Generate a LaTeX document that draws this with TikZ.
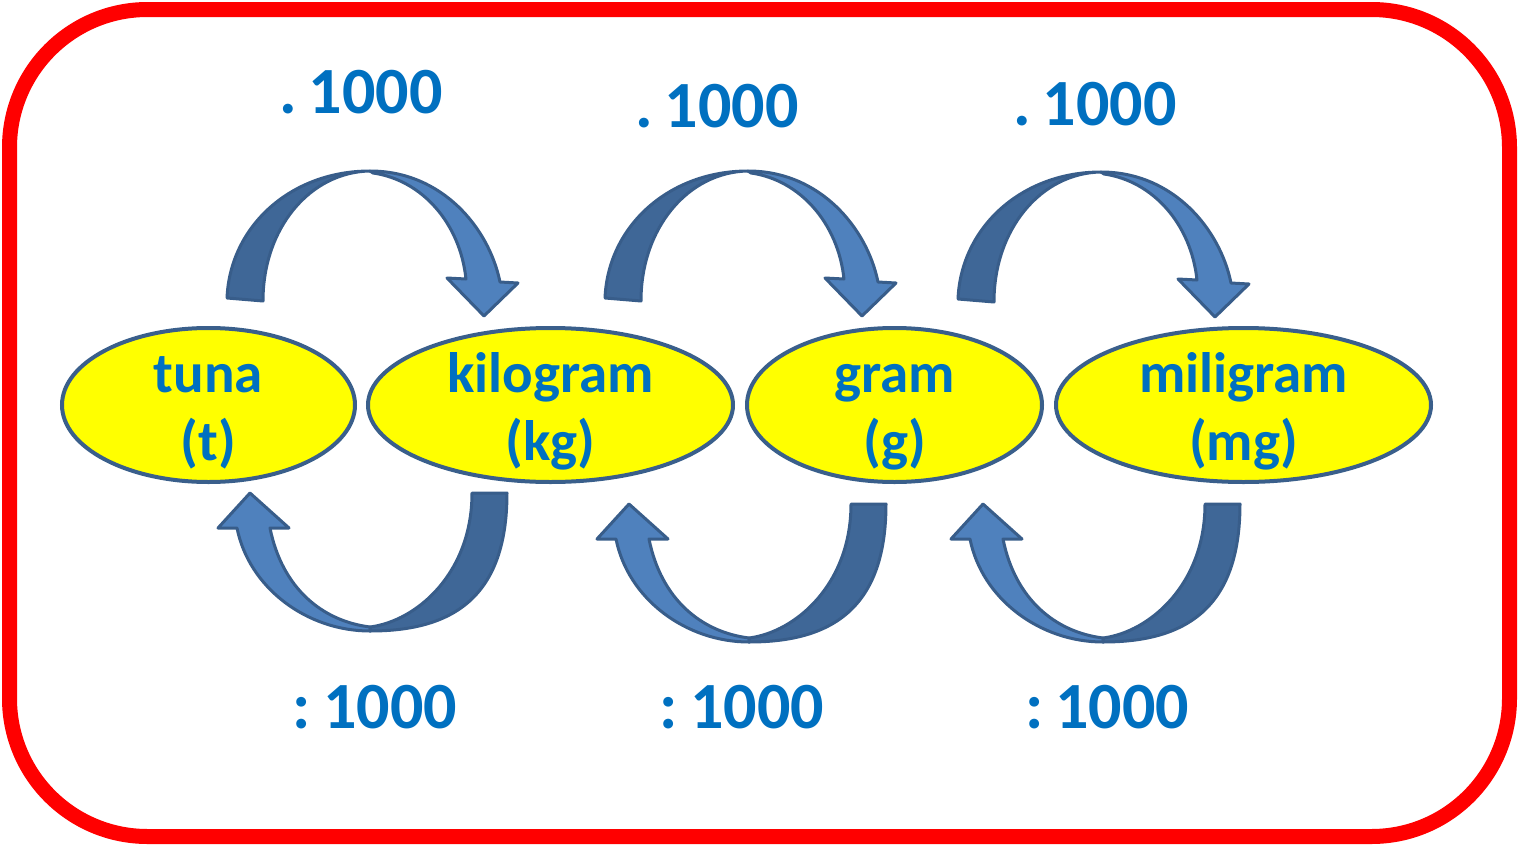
\documentclass[tikz,border=0pt]{standalone}
\usepackage{fontspec}
\setmainfont{Carlito}
\usepackage{tikz}
\usetikzlibrary{shapes.geometric}

\definecolor{framered}{HTML}{FF0000}
\definecolor{unitfill}{HTML}{FFFF00}
\definecolor{unitline}{HTML}{3A5F8B}
\definecolor{textblue}{HTML}{0070C0}
\definecolor{arrowlight}{HTML}{4F81BD}
\definecolor{arrowdark}{HTML}{3F6797}
\definecolor{arrowline}{HTML}{385D8A}

\newcommand{\unitstrut}{\rule{0pt}{52pt}}

\begin{document}
\begin{tikzpicture}[x=1pt,y=-1pt,
  unit/.style={ellipse,draw=unitline,fill=unitfill,line width=4,
    inner xsep=0pt,inner ysep=-25pt,
    minimum height=154,align=center,text=textblue,
    font=\fontsize{57}{68}\selectfont\bfseries},
  factor/.style={anchor=base,text=textblue,inner sep=0pt,
    font=\fontsize{66}{79}\selectfont\bfseries},
  back/.style={fill=arrowdark,draw=arrowline,line width=3,line join=round},
  front/.style={fill=arrowlight,draw=arrowline,line width=3,line join=round}]
  \useasboundingbox (0,0) rectangle (1519,846);
  \draw[framered,line width=15,rounded corners=138pt] (9.5,9.5) rectangle (1509.5,836.5);

  % units
  \node[unit,minimum width=293] (t) at (208.5,405) {\unitstrut tuna\\(t)};
  \node[unit,minimum width=365] (kg) at (550.5,405) {\unitstrut kilogram\\(kg)};
  \node[unit,minimum width=295] (g) at (894.5,405) {\unitstrut gram\\(g)};
  \node[unit,minimum width=375] (mg) at (1243.5,405) {\unitstrut miligram\\(mg)};

  % arrows over the units
  \foreach \ox/\oy in {227/298,605/298,958/299} {
    \begin{scope}[shift={(\ox,\oy)}]
      \filldraw[back] (0,0) .. controls (3,-72) and (64,-127) .. (143,-127)
        .. controls (83,-126) and (36,-70) .. (36,3) -- cycle;
      \filldraw[front] (143,-127) .. controls (215,-127) and (262,-70) .. (273,-16)
        -- (291,-15) -- (257,18) -- (220,-20) -- (239,-19)
        .. controls (233,-75) and (195,-118) .. (146,-125) -- cycle;
    \end{scope}
  }

  % arrows under the units
  \foreach \ox/\oy in {507/493,886/504,1240/504} {
    \begin{scope}[shift={(\ox,\oy)}]
      \filldraw[back] (0,0) .. controls (0,105) and (-55,138) .. (-137,138)
        -- (-137,134) .. controls (-90,128) and (-35,80) .. (-35,0) -- cycle;
      \filldraw[front] (-137,138) .. controls (-200,138) and (-258,95) .. (-270,35)
        -- (-289,35) -- (-257,0) -- (-218,35) -- (-237,35)
        .. controls (-225,95) and (-185,128) .. (-137,134) -- cycle;
    \end{scope}
  }

  % factors
  \node[factor] (mul1) at (361,113) {.\hspace{12pt}1000};
  \node[factor] (mul2) at (717,127) {.\hspace{12pt}1000};
  \node[factor] (mul3) at (1095,125) {.\hspace{12pt}1000};
  \node[factor] (div1) at (375,728) {:\hspace{12pt}1000};
  \node[factor] (div2) at (742,728) {:\hspace{12pt}1000};
  \node[factor] (div3) at (1107,728) {:\hspace{12pt}1000};
\end{tikzpicture}
\end{document}
